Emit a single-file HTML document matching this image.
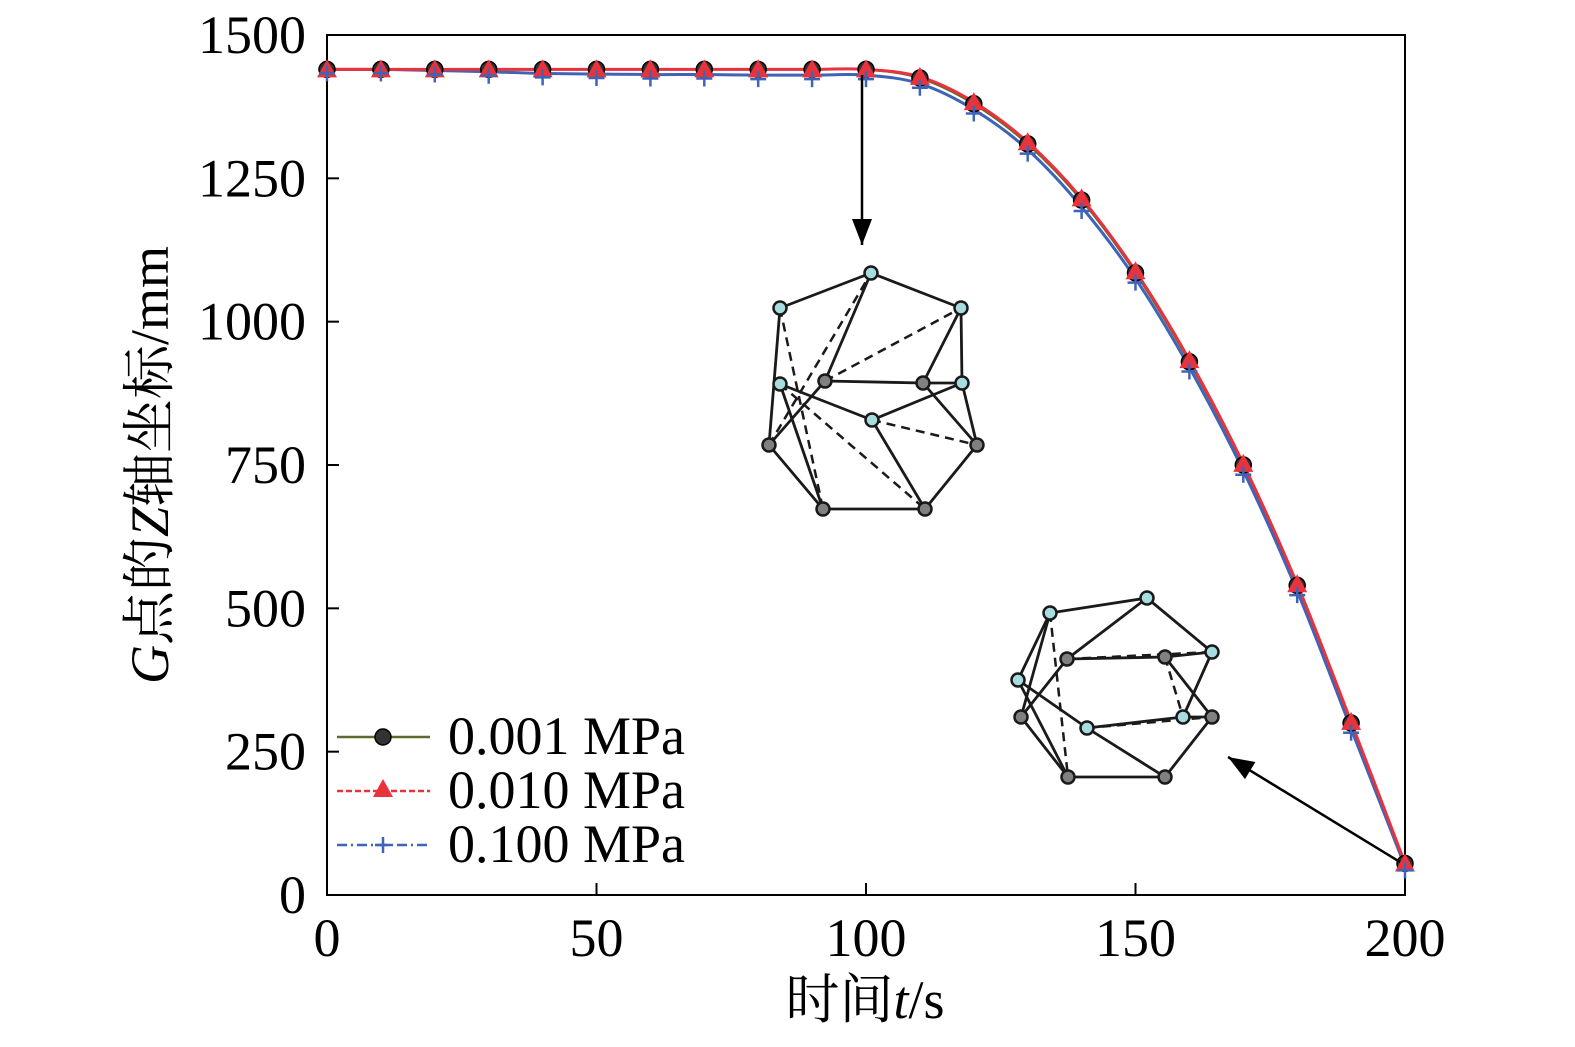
<!DOCTYPE html>
<html><head><meta charset="utf-8"><style>
body{margin:0;background:#fff}
svg{display:block;font-family:"Liberation Serif","Noto Serif CJK SC",serif}
</style></head><body>
<svg width="1575" height="1047" id="c">
<rect x="327" y="35" width="1078" height="860" fill="none" stroke="#000" stroke-width="2"/>
<g id="axes"></g>
<g id="series"></g>
<g id="diagrams"></g>
<text x="865" y="1018" font-size="54" text-anchor="middle">时间<tspan font-style="italic">t</tspan>/s</text>
<text transform="translate(168,465) rotate(-90)" font-size="54" text-anchor="middle"><tspan font-style="italic">G</tspan>点的<tspan font-style="italic">Z</tspan>轴坐标/mm</text>
<g id="legend"></g>
</svg>
<script>
const times=[0,10,20,30,40,50,60,70,80,90,100,110,120,130,140,150,160,170,180,190,200];
const s1=[1440,1440,1440,1440,1440,1440,1440,1440,1440,1440,1440,1425,1380,1310,1212,1085,930,750,540,300,55];
const s2=[1440,1440,1440,1440,1440,1440,1440,1440,1440,1440,1440,1427,1383,1313,1215,1088,933,752,542,302,55];
const s3=[1440,1440,1438,1436,1433,1432,1431,1431,1430,1430,1430,1415,1370,1300,1200,1075,920,740,530,290,50];
const xTicks=[0,50,100,150,200];
const yTicks=[0,250,500,750,1000,1250,1500];
const legendLabels=["0.001 MPa","0.010 MPa","0.100 MPa"];
const NS="http://www.w3.org/2000/svg";
const X=v=>327+v/200*1078, Y=v=>895-v/1500*860;
function mk(t,a,p){const e=document.createElementNS(NS,t);for(const k in a)e.setAttribute(k,a[k]);(p||document.getElementById('c')).appendChild(e);return e;}
const ax=document.getElementById('axes');
xTicks.forEach(v=>{mk('line',{x1:X(v),x2:X(v),y1:895,y2:883,stroke:'#000','stroke-width':2},ax);
 const t=mk('text',{x:X(v),y:956,'font-size':54,'text-anchor':'middle'},ax);t.textContent=v;
 
 });
yTicks.forEach(v=>{mk('line',{x1:327,x2:339,y1:Y(v),y2:Y(v),stroke:'#000','stroke-width':2},ax);
 const t=mk('text',{x:306,y:Y(v)+18,'font-size':54,'text-anchor':'end'},ax);t.textContent=v;
 
 });
const sg=document.getElementById('series');
function path(d){const P=d.map((v,i)=>[X(times[i]),Y(v)]);let s='M'+P[0][0]+','+P[0][1];
 for(let i=0;i<P.length-1;i++){const p0=P[Math.max(0,i-1)],p1=P[i],p2=P[i+1],p3=P[Math.min(P.length-1,i+2)];
  s+=`C${p1[0]+(p2[0]-p0[0])/6},${p1[1]+(p2[1]-p0[1])/6} ${p2[0]-(p3[0]-p1[0])/6},${p2[1]-(p3[1]-p1[1])/6} ${p2[0]},${p2[1]}`;}
 return s;}
const p1=mk('path',{d:path(s1),fill:'none',stroke:'#5b6b2a','stroke-width':2.5},sg);


const p3=mk('path',{d:path(s3),fill:'none',stroke:'#3e64b8','stroke-width':3},sg);


const p2=mk('path',{d:path(s2),fill:'none',stroke:'#e8323c','stroke-width':3},sg);


function circ(x,y,p){return mk('circle',{cx:x,cy:y,r:8,fill:'#333',stroke:'#000','stroke-width':1.5},p);}
function tri(x,y,p){return mk('path',{d:`M${x},${y-10}L${x+10},${y+8}L${x-10},${y+8}Z`,fill:'#e8323c'},p);}
function plus(x,y,p){return mk('path',{d:`M${x-8},${y}H${x+8}M${x},${y-8}V${y+8}`,stroke:'#3e64b8','stroke-width':2.5,fill:'none'},p);}
s1.forEach((v,i)=>{const e=circ(X(times[i]),Y(v),sg);});
s2.forEach((v,i)=>{const e=tri(X(times[i]),Y(v),sg);});
s3.forEach((v,i)=>{const e=plus(X(times[i]),Y(v)+4,sg);});
const lg=document.getElementById('legend');
const ly=[737,791,845];
mk('line',{x1:337,x2:430,y1:ly[0],y2:ly[0],stroke:'#5b6b2a','stroke-width':2.5},lg);circ(383,ly[0],lg);
mk('line',{x1:337,x2:430,y1:ly[1],y2:ly[1],stroke:'#e8323c','stroke-width':2.5,'stroke-dasharray':'6,3'},lg);tri(383,ly[1]-2,lg);
mk('line',{x1:337,x2:430,y1:ly[2],y2:ly[2],stroke:'#3e64b8','stroke-width':2.5,'stroke-dasharray':'10,4,2,4'},lg);plus(383,ly[2],lg);
legendLabels.forEach((l,i)=>{const t=mk('text',{x:448,y:ly[i]+17,'font-size':54},lg);t.textContent=l;
 
 });
const dg=document.getElementById('diagrams');
function arrow(x1,y1,x2,y2){mk('line',{x1,y1,x2,y2,stroke:'#000','stroke-width':2.5},dg);
 const a=Math.atan2(y2-y1,x2-x1),L=26,w=10;
 mk('path',{d:`M${x2},${y2}L${x2-L*Math.cos(a)+w*Math.sin(a)},${y2-L*Math.sin(a)-w*Math.cos(a)}L${x2-L*Math.cos(a)-w*Math.sin(a)},${y2-L*Math.sin(a)+w*Math.cos(a)}Z`,fill:'#000'},dg);}
arrow(862,75,862,245);arrow(1400,862,1228,757);
function draw(N,solid,dashed,cyan){
 solid.forEach(s=>{const a=N[s[0]],b=N[s[1]];mk('line',{x1:a[0],y1:a[1],x2:b[0],y2:b[1],stroke:'#1a1a1a','stroke-width':2.8},dg);});
 dashed.forEach(s=>{const a=N[s[0]],b=N[s[1]];mk('line',{x1:a[0],y1:a[1],x2:b[0],y2:b[1],stroke:'#1a1a1a','stroke-width':2.5,'stroke-dasharray':'9,6'},dg);});
 for(const k in N)mk('circle',{cx:N[k][0],cy:N[k][1],r:6.5,fill:cyan.includes(k)?'#a8dde0':'#808080',stroke:'#1a1a1a','stroke-width':2.5},dg);}
draw({A:[871,273],B:[780,308],C:[961,308],D:[780,384],E:[825,381],F:[923,383],G:[962,383],H:[872,420],I:[769,445],J:[977,445],K:[823,509],L:[925,509]},
 [['B','A'],['A','C'],['C','G'],['B','I'],['D','K'],['E','A'],['E','I'],['E','F'],['F','G'],['F','J'],['G','J'],['C','F'],['D','H'],['H','G'],['H','L'],['I','K'],['K','L'],['L','J']],
 [['B','K'],['I','A'],['E','C'],['D','L'],['H','J']],['A','B','C','D','G','H']);
draw({a:[1050,613],b:[1147,598],c:[1212,652],d:[1067,659],e:[1165,657],f:[1018,680],g:[1021,717],h:[1087,728],i:[1183,717],j:[1212,717],k:[1068,777],l:[1165,777]},
 [['a','b'],['b','c'],['c','i'],['a','g'],['a','f'],['f','k'],['f','h'],['g','k'],['g','d'],['d','b'],['d','e'],['e','c'],['e','j'],['h','i'],['h','l'],['k','l'],['l','j'],['i','j']],
 [['a','k'],['d','c'],['e','i'],['h','j']],['a','b','c','f','h','i']);
</script>
</body></html>
